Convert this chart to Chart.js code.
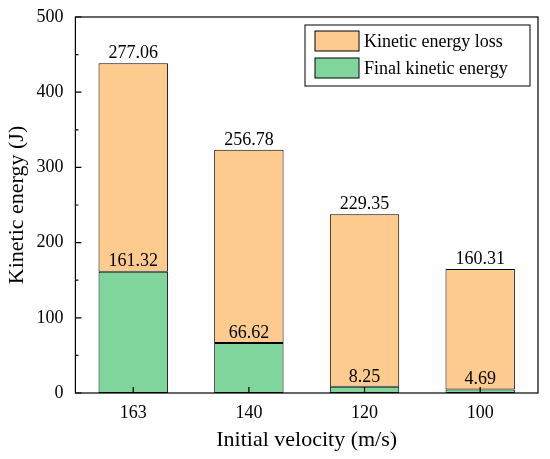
<!DOCTYPE html>
<html>
<head>
<meta charset="utf-8">
<script src="https://cdn.jsdelivr.net/npm/chart.js@4"></script>
<style>
  body { margin: 0; background: #fff; }
  #wrap { width: 550px; height: 459px; }
</style>
</head>
<body>
<div id="wrap"><canvas id="chart"></canvas></div>
<script>
const velocities = ["163", "140", "120", "100"];
const finalEnergy = [161.32, 66.62, 8.25, 4.69];
const energyLoss = [277.06, 256.78, 229.35, 160.31];
const yTicks = [0, 100, 200, 300, 400, 500];

const font = "Liberation Serif";

// frame, inward ticks, value labels and legend
const decorPlugin = {
    id: "decor",
    afterDatasetsDraw(chart) {
        const ctx = chart.ctx;
        const a = chart.chartArea;
        const xs = chart.scales.x, ys = chart.scales.y;
        ctx.save();
        ctx.strokeStyle = "#000";
        ctx.lineWidth = 1.2;
        ctx.strokeRect(a.left, a.top, a.right - a.left, a.bottom - a.top);
        ctx.beginPath();
        yTicks.forEach(v => {
            const y = ys.getPixelForValue(v);
            ctx.moveTo(a.left, y); ctx.lineTo(a.left + 6, y);
            if (v < 500) { const ym = ys.getPixelForValue(v + 50); ctx.moveTo(a.left, ym); ctx.lineTo(a.left + 3, ym); }
        });
        velocities.forEach((c, i) => {
            const x = xs.getPixelForValue(i);
            ctx.moveTo(x, a.bottom); ctx.lineTo(x, a.bottom - 6);
        });
        ctx.stroke();

        ctx.fillStyle = "#000";
        ctx.font = "18px '" + font + "'";
        ctx.textAlign = "center";
        ctx.textBaseline = "bottom";
        velocities.forEach((c, i) => {
            const x = xs.getPixelForValue(i);
            ctx.fillText(finalEnergy[i].toFixed(2), x, ys.getPixelForValue(finalEnergy[i]) - 1);
            ctx.fillText(energyLoss[i].toFixed(2), x, ys.getPixelForValue(finalEnergy[i] + energyLoss[i]) - 1);
        });

        // legend
        const lx = 305, ly = 25, lw = 225, lh = 61;
        ctx.lineWidth = 1;
        ctx.strokeRect(lx, ly, lw, lh);
        const items = [["Kinetic energy loss", "#fecb8f"], ["Final kinetic energy", "#7fd59b"]];
        ctx.textAlign = "left";
        ctx.textBaseline = "middle";
        items.forEach((it, k) => {
            const y = ly + 16 + k * 27;
            ctx.fillStyle = it[1];
            ctx.fillRect(lx + 10, y - 10, 44, 20);
            ctx.strokeRect(lx + 10, y - 10, 44, 20);
            ctx.fillStyle = "#000";
            ctx.fillText(it[0], lx + 59, y + 1);
        });
        ctx.restore();
    }
};

new Chart(document.getElementById("chart"), {
    type: "bar",
    data: {
        labels: velocities,
        datasets: [
            {
                label: "Final kinetic energy",
                data: finalEnergy,
                backgroundColor: "#7fd59b",
                borderColor: "#000",
                borderWidth: 1,
                borderSkipped: false,
            },
            {
                label: "Kinetic energy loss",
                data: energyLoss,
                backgroundColor: "#fecb8f",
                borderColor: "#000",
                borderWidth: 1,
                borderSkipped: false,
            },
        ],
    },
    options: {
        responsive: true,
        maintainAspectRatio: false,
        animation: false,
        layout: { padding: { top: 17, right: 12, left: 0, bottom: 2 } },
        categoryPercentage: 0.6,
        barPercentage: 1,
        plugins: { legend: { display: false }, tooltip: { enabled: false } },
        scales: {
            x: {
                stacked: true,
                grid: { display: false },
                border: { display: false },
                ticks: { color: "#000", font: { family: font, size: 18 }, padding: 1 },
                title: { display: true, text: "Initial velocity (m/s)", color: "#000", font: { family: font, size: 22 }, padding: { top: 2 } },
            },
            y: {
                stacked: true,
                min: 0,
                max: 500,
                afterBuildTicks: axis => { axis.ticks = yTicks.map(v => ({ value: v })); },
                grid: { display: false },
                border: { display: false },
                ticks: { color: "#000", font: { family: font, size: 18 }, padding: 4 },
                title: { display: true, text: "Kinetic energy (J)", color: "#000", font: { family: font, size: 22 }, padding: { bottom: 2 } },
            },
        },
    },
    plugins: [decorPlugin],
});
</script>
</body>
</html>
